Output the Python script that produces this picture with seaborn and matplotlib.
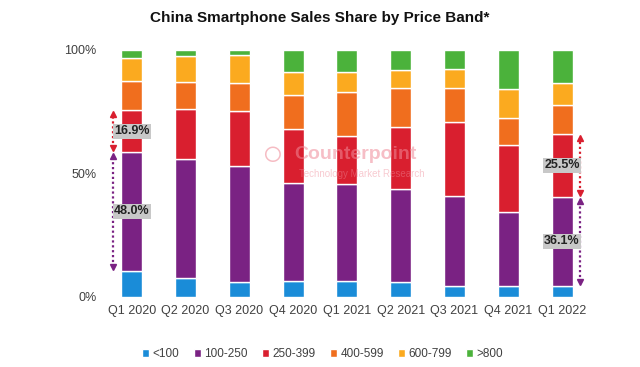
import matplotlib
matplotlib.use("Agg")
import matplotlib.pyplot as plt
import numpy as np
import pandas as pd
import seaborn as sns

sns.set_theme(style="white")
plt.rcParams["font.family"] = ["Liberation Sans", "DejaVu Sans"]

quarters = ["Q1 2020", "Q2 2020", "Q3 2020", "Q4 2020", "Q1 2021",
            "Q2 2021", "Q3 2021", "Q4 2021", "Q1 2022"]
bands = ["<100", "100-250", "250-399", "400-599", "600-799", ">800"]

share_lt100 = [10.6, 7.6, 6.2, 6.6, 6.5, 6.0, 4.6, 4.6, 4.4]
share_100_250 = [48.0, 48.1, 46.8, 39.4, 39.1, 37.6, 36.4, 29.7, 36.1]
share_250_399 = [16.9, 20.3, 22.4, 21.9, 19.7, 25.1, 29.9, 27.2, 25.5]
share_400_599 = [12.1, 11.2, 11.4, 13.9, 17.6, 16.0, 13.8, 10.8, 11.5]
share_600_799 = [9.3, 10.4, 11.2, 9.2, 8.3, 7.2, 7.5, 11.8, 9.0]
share_gt800 = [3.1, 2.4, 2.0, 9.0, 8.8, 8.1, 7.8, 15.9, 13.5]

colors = ["#1A8CD8", "#7A2283", "#D91F2F", "#F06E1E", "#FBAA1F", "#4BB23B"]

df = pd.DataFrame({"quarter": quarters, "<100": share_lt100, "100-250": share_100_250,
                   "250-399": share_250_399, "400-599": share_400_599,
                   "600-799": share_600_799, ">800": share_gt800})

fig = plt.figure(figsize=(6.4, 3.67), dpi=100)
ax = fig.add_axes([0.164, 0.191, 0.773, 0.673])

bottom = np.zeros(len(quarters))
for band, col in zip(bands, colors):
    sns.barplot(data=df, x="quarter", y=band, bottom=bottom, color=col,
                width=0.39, label=band, ax=ax, saturation=1)
    bottom = bottom + df[band].to_numpy()

ax.set_xlim(-0.5, 8.7)
ax.set_ylim(0, 100)
ax.set_yticks([0, 50, 100])
ax.set_yticklabels(["0%", "50%", "100%"], fontsize=9, color="#404040")
ax.tick_params(axis="x", labelsize=9, colors="#404040", length=0, pad=6)
ax.tick_params(axis="y", length=0, pad=6)
ax.set_xlabel("")
ax.set_ylabel("")
for s in ax.spines.values():
    s.set_visible(False)


def bracket(i, xoff, lo, hi, color, label):
    ax.plot([i + xoff, i + xoff], [lo + 1.5, hi - 1.5], ls=(0, (1, 1.2)), lw=1.6, color=color)
    ax.plot(i + xoff, hi - 1.5, marker="^", ms=4, color=color)
    ax.plot(i + xoff, lo + 1.5, marker="v", ms=4, color=color)
    ax.text(i, (lo + hi) / 2, label, ha="center", va="center", fontsize=9,
            fontweight="bold", color="#222222",
            bbox=dict(boxstyle="square,pad=0.1", fc="#C8C8C8", ec="none"))


# highlight the 100-250 and 250-399 bands in first and last quarter
for i, xoff in [(0, -0.35), (8, 0.34)]:
    b0 = share_lt100[i]
    b1 = b0 + share_100_250[i]
    b2 = b1 + share_250_399[i]
    bracket(i, xoff, b1, b2, colors[2], f"{share_250_399[i]:.1f}%")
    bracket(i, xoff, b0, b1, colors[1], f"{share_100_250[i]:.1f}%")

# watermark
fig.text(0.425, 0.575, "\u25CB", fontsize=26, color="#F2A0AA", alpha=0.7, ha="center", va="center")
fig.text(0.555, 0.578, "Counterpoint", fontsize=14, fontweight="bold", color="#F08A98",
         alpha=0.55, ha="center", va="center")
fig.text(0.565, 0.525, "Technology Market Research", fontsize=7, color="#F08A98",
         alpha=0.45, ha="center", va="center")

fig.suptitle("China Smartphone Sales Share by Price Band*", y=0.97, fontsize=11,
             fontweight="bold", color="#111111")

ax.legend(loc="lower center", bbox_to_anchor=(0.44, -0.30), ncol=6, frameon=False,
          fontsize=8.5, handlelength=0.6, handleheight=0.6, handletextpad=0.3,
          columnspacing=1.2, labelcolor="#404040")

fig.savefig("out.png", dpi=100)
